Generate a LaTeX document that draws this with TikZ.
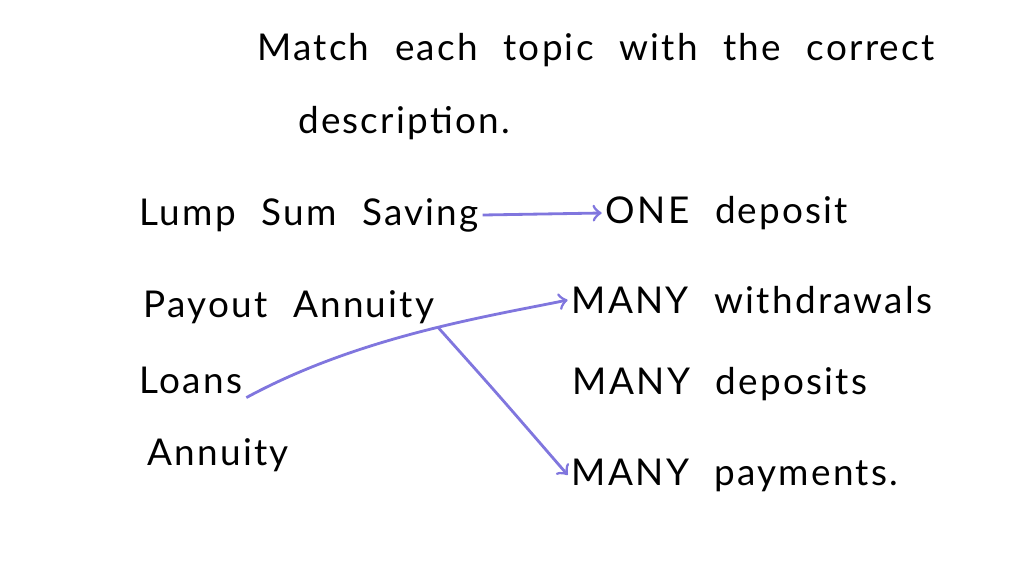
\documentclass[tikz,border=0pt]{standalone}
\usepackage{fontspec}
\setmainfont{Lato}[WordSpace=2.2,LetterSpace=6]
\definecolor{pen}{RGB}{128,118,222}
\begin{document}
\begin{tikzpicture}[every node/.style={inner sep=1pt,font=\fontsize{10.5}{12}\selectfont}]
        \useasboundingbox (0,0) rectangle (10.24,5.76);

        \node at (5.96, 5.26) (match) {Match each topic with the correct};
        \node at (4.04, 4.53) (descr) {description.};

        \node at (3.09, 3.61) (lump) {Lump Sum Saving};
        \node at (2.89, 2.69) (payout) {Payout Annuity};
        \node at (1.91, 1.96) (loans) {Loans};
        \node at (2.18, 1.21) (annuity) {Annuity};

        \node at (7.27, 3.63) (one) {ONE deposit};
        \node at (7.52, 2.76) (manyw) {MANY withdrawals};
        \node at (7.20, 1.92) (manyd) {MANY deposits};
        \node at (7.35, 1.01) (manyp) {MANY payments.};

        \draw[->,pen,line width=0.8pt] (lump.east) -- (one.west);
        \draw[->,pen,line width=0.8pt] (loans.south east) .. controls (3.6,2.4) and (4.9,2.6) .. (manyw.west);
        \draw[->,pen,line width=0.8pt] (payout.south east) .. controls (4.95,1.85) .. (manyp.west);
    \end{tikzpicture}
\end{document}
